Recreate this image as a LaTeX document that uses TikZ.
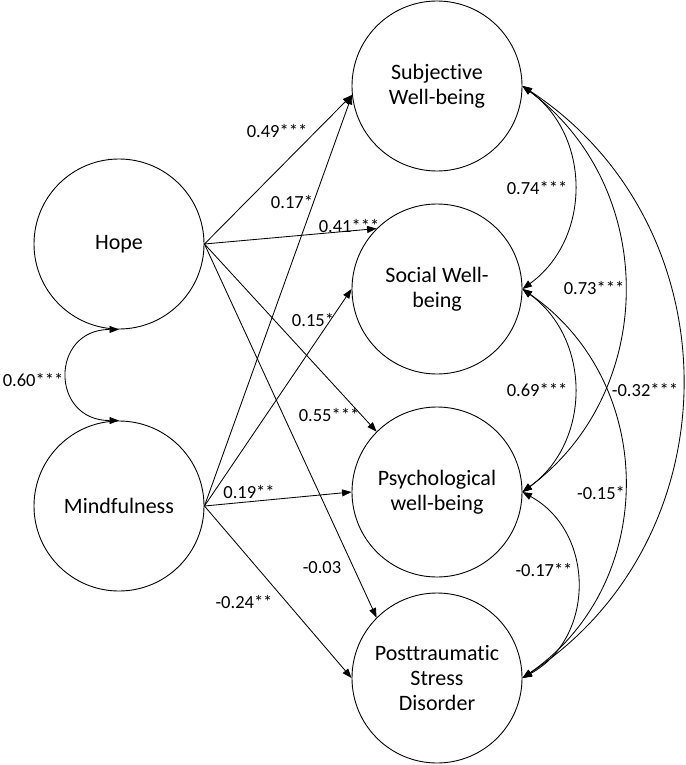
\documentclass[tikz,border=0pt]{standalone}
\usepackage{fontspec}
\setmainfont{Carlito}[Ligatures=NoCommon]
\usetikzlibrary{arrows.meta}
\begin{document}
\begin{tikzpicture}[x=1pt,y=-1pt,
  latent/.style={draw, circle, minimum size=170pt, inner sep=0pt, line width=0.9pt, align=center, font=\fontsize{22}{25}\selectfont},
  lbl/.style={font=\fontsize{18.5}{20}\selectfont, inner sep=0pt},
  regpath/.style={line width=0.85pt, -{Triangle[length=9.5pt,width=7pt]}},
  cov/.style={line width=0.85pt, {Triangle[length=9.5pt,width=7pt]}-{Triangle[length=9.5pt,width=7pt]}}]
\useasboundingbox (0,0) rectangle (685,765);
\node[latent] (hope) at (119,244) {Hope};
\node[latent] (mind) at (119,506) {Mindfulness};
\node[latent] (swb) at (437,86) {Subjective\\Well-being};
\node[latent] (soc) at (437,289) {Social Well-\\being};
\node[latent] (pwb) at (437,492) {Psychological\\well-being};
\node[latent] (ptsd) at (437,678) {Posttraumatic\\Stress\\Disorder};

\draw[regpath] (hope.east) -- (swb.186);
\draw[regpath] (mind.east) -- (swb.186);
\draw[regpath] (hope.east) -- (soc.135);
\draw[regpath] (mind.east) -- (soc.west);
\draw[regpath] (hope.east) -- (pwb.135);
\draw[regpath] (mind.east) -- (pwb.west);
\draw[regpath] (hope.east) -- (ptsd.135);
\draw[regpath] (mind.east) -- (ptsd.west);

\draw[cov] (hope.south) .. controls +(-69,0) and +(-69,0) .. (mind.north);
\draw[cov] (swb.east) .. controls +(69,50) and +(69,-50) .. (soc.east);
\draw[cov] (swb.east) .. controls +(136,101) and +(136,-101) .. (pwb.east);
\draw[cov] (swb.east) .. controls +(213,140) and +(213,-140) .. (ptsd.east);
\draw[cov] (soc.east) .. controls +(69,50) and +(69,-50) .. (pwb.east);
\draw[cov] (soc.east) .. controls +(136,94) and +(136,-94) .. (ptsd.east);
\draw[cov] (pwb.east) .. controls +(73,40) and +(73,-40) .. (ptsd.east);

\node[lbl] (l1) at (277,131) {0.49***};
\node[lbl] (l2) at (292,202) {0.17*};
\node[lbl] (l3) at (349,226) {0.41***};
\node[lbl] (l4) at (313,320) {0.15*};
\node[lbl] (l5) at (329,415) {0.55***};
\node[lbl] (l6) at (249,492) {0.19**};
\node[lbl] (l7) at (322,568) {-0.03};
\node[lbl] (l8) at (244,602) {-0.24**};
\node[lbl] (l9) at (33,380) {0.60***};
\node[lbl] (l10) at (537,188) {0.74***};
\node[lbl] (l11) at (594,288) {0.73***};
\node[lbl] (l12) at (537,390) {0.69***};
\node[lbl] (l13) at (645,390) {-0.32***};
\node[lbl] (l14) at (601,493) {-0.15*};
\node[lbl] (l15) at (544,570) {-0.17**};
\end{tikzpicture}
\end{document}
